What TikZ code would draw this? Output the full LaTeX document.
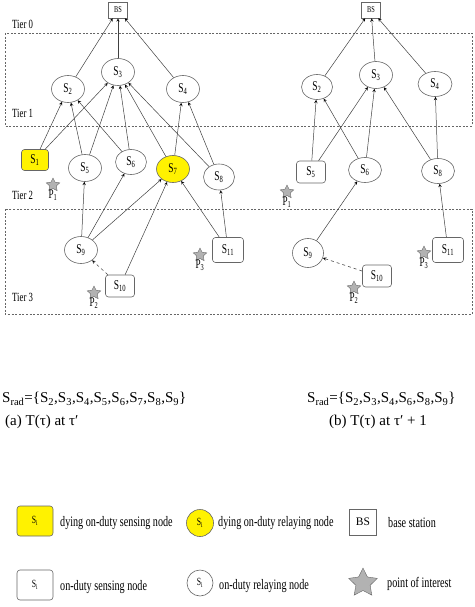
\documentclass[tikz,border=0pt]{standalone}
\usepackage{fontspec}
\setmainfont{Liberation Serif}
\newfontfamily\narrow{Liberation Serif}[FakeStretch=0.7]
\usetikzlibrary{positioning, arrows, shapes.geometric}
\newcommand{\sn}[1]{S\textsubscript{#1}}
\newcommand{\capfont}{\fontsize{15}{17}\selectfont}
\tikzset{
    >=stealth, % small filled heads
    relay/.style={ellipse, draw=black!60, line width=0.6pt, minimum width=33pt, minimum height=27pt, inner sep=0pt, font=\narrow\fontsize{13.5}{15}\selectfont},
    dyingrelay/.style={relay, fill=yellow},
    sense/.style={rectangle, rounded corners=3pt, draw=black!60, line width=0.6pt, minimum width=29pt, minimum height=22pt, inner sep=0pt, font=\narrow\fontsize{13.5}{15}\selectfont},
    dyingsense/.style={sense, fill=yellow},
    station/.style={rectangle, draw=black!60, line width=0.6pt, minimum width=19pt, minimum height=16pt, inner sep=0pt, font=\narrow\fontsize{9}{10}\selectfont},
    poi/.style={star, star points=5, star point ratio=2, minimum size=14pt, inner sep=0pt, draw=black!60, fill=black!30},
    plabel/.style={label distance=-2.5pt, font=\narrow\fontsize{13}{14}\selectfont},
    tier/.style={draw=black!60, dash pattern=on 2pt off 1.6pt, line width=0.9pt},
    tierlabel/.style={anchor=west, inner sep=1pt, font=\narrow\fontsize{12.5}{14}\selectfont},
    legendtext/.style={anchor=west, inner sep=1pt, font=\narrow\fontsize{14.5}{16}\selectfont},
}
\tikzstyle{arrow} = [line width=0.5pt, ->, >=stealth, draw=black!75]

\begin{document}
\begin{tikzpicture}[x=1pt, y=-1pt, on grid, node distance=60pt]
    \useasboundingbox (0,0) rectangle (474,607);

    % tiers
    \draw[tier] (5,33) rectangle (472,126);
    \draw[tier] (5,209) rectangle (472,314);
    \node[tierlabel] (t0) at (11,24) {Tier 0};
    \node[tierlabel] (t1) at (11,113) {Tier 1};
    \node[tierlabel] (t2) at (11,195) {Tier 2};
    \node[tierlabel] (t3) at (11,297) {Tier 3};

    % (a) tree at tau'
    \node[station] (bsa) at (118,10) {BS};
    \node[relay] (s3a) [below=62pt of bsa] {\sn{3}};
    \node[relay] (s2a) [below left=17pt and 50pt of s3a] {\sn{2}};
    \node[relay] (s4a) [below right=17pt and 65pt of s3a] {\sn{4}};
    \node[dyingsense, minimum width=27pt, minimum height=21pt] (s1a) [below left=71pt and 33pt of s2a] {\sn{1}};
    \node[relay] (s5a) [below right=79pt and 17pt of s2a] {\sn{5}};
    \node[relay, minimum width=31pt, minimum height=25pt] (s6a) [below right=90pt and 13pt of s3a] {\sn{6}};
    \node[dyingrelay] (s7a) [below left=80pt and 10pt of s4a] {\sn{7}};
    \node[relay, minimum width=31pt, minimum height=26pt] (s8a) [below right=88pt and 36pt of s4a] {\sn{8}};
    \node[relay] (s9a) [below left=82pt and 4pt of s5a] {\sn{9}};
    \node[sense] (s10a) [below right=36pt and 39pt of s9a] {\sn{10}};
    \node[sense, minimum width=31pt, minimum height=25pt] (s11a) [below right=73pt and 9pt of s8a] {\sn{11}};
    \node[poi, label={[plabel]below:P\textsubscript{1}}] (p1a) [below right=25pt and 18pt of s1a] {};
    \node[poi, label={[plabel]below:P\textsubscript{2}}] (p2a) [below left=7pt and 26pt of s10a] {};
    \node[poi, label={[plabel]below:P\textsubscript{3}}] (p3a) [below left=5pt and 28pt of s11a] {};

    \path[arrow]
        (s2a) edge (bsa)
        (s3a) edge (bsa)
        (s4a) edge (bsa)
        (s1a) edge (s2a) edge (s3a)
        (s5a) edge (s2a) edge (s3a)
        (s6a) edge (s2a) edge (s3a)
        (s7a) edge (s3a) edge (s4a)
        (s8a) edge (s3a) edge (s4a)
        (s9a) edge (s5a) edge (s6a) edge (s7a)
        (s10a) edge (s7a) edge[dashed] (s9a)
        (s11a) edge (s7a) edge (s8a);

    % (b) tree at tau'+1
    \node[station] (bsb) at (371,10) {BS};
    \node[relay] (s3b) [below right=65pt and 5pt of bsb] {\sn{3}};
    \node[relay, minimum width=31pt, minimum height=25pt] (s2b) [below left=12pt and 59pt of s3b] {\sn{2}};
    \node[relay, minimum width=34pt, minimum height=25pt] (s4b) [below right=9pt and 59pt of s3b] {\sn{4}};
    \node[sense] (s5b) [below left=85pt and 6pt of s2b] {\sn{5}};
    \node[relay, minimum height=25pt] (s6b) [below left=95pt and 11pt of s3b] {\sn{6}};
    \node[relay, minimum height=25pt] (s8b) [below right=87pt and 3pt of s4b] {\sn{8}};
    \node[relay, minimum width=31pt, minimum height=29pt] (s9b) [below left=83pt and 57pt of s6b] {\sn{9}};
    \node[sense] (s10b) [below right=23pt and 69pt of s9b] {\sn{10}};
    \node[sense, minimum width=31pt, minimum height=25pt] (s11b) [below right=79pt and 10pt of s8b] {\sn{11}};
    \node[poi, label={[plabel]below:P\textsubscript{1}}] (p1b) [below left=20pt and 24pt of s5b] {};
    \node[poi, label={[plabel]below:P\textsubscript{2}}] (p2b) [below left=12pt and 23pt of s10b] {};
    \node[poi, label={[plabel]below:P\textsubscript{3}}] (p3b) [below left=3pt and 24pt of s11b] {};

    \path[arrow]
        (s2b) edge (bsb)
        (s3b) edge (bsb)
        (s4b) edge (bsb)
        (s5b) edge (s2b) edge (s3b)
        (s6b) edge (s2b) edge (s3b)
        (s8b) edge (s3b) edge (s4b)
        (s9b) edge (s6b)
        (s10b) edge[dashed] (s9b)
        (s11b) edge (s8b);

    % captions
    \node[anchor=west, inner sep=1pt, font=\capfont] (srada) at (1,399) {S\textsubscript{rad}=\{S\textsubscript{2},S\textsubscript{3},S\textsubscript{4},S\textsubscript{5},S\textsubscript{6},S\textsubscript{7},S\textsubscript{8},S\textsubscript{9}\}};
    \node[anchor=west, inner sep=1pt, font=\capfont] (capa) at (4,422) {(a) T(τ) at τ′};
    \node[anchor=west, inner sep=1pt, font=\capfont] (sradb) at (306,399) {S\textsubscript{rad}=\{S\textsubscript{2},S\textsubscript{3},S\textsubscript{4},S\textsubscript{6},S\textsubscript{8},S\textsubscript{9}\}};
    \node[inner sep=1pt, font=\capfont] (capb) at (378,422) {(b) T(τ) at τ′ + 1};

    % legend
    \node[dyingsense, minimum width=36pt, minimum height=30pt, font=\narrow\fontsize{11}{12}\selectfont] (lg1) at (35,521) {S\textsubscript{i}};
    \node[legendtext] (lg1t) at (59,523) {dying on-duty sensing node};
    \node[dyingrelay, circle, minimum size=27pt, font=\narrow\fontsize{11}{12}\selectfont] (lg2) at (200,523) {S\textsubscript{i}};
    \node[legendtext] (lg2t) at (217,523) {dying on-duty relaying node};
    \node[station, minimum width=27pt, minimum height=26pt, font=\fontsize{11.5}{13}\selectfont] (lg3) at (363,522) {BS};
    \node[legendtext] (lg3t) at (387,523) {base station};
    \node[sense, minimum width=36pt, minimum height=30pt, font=\narrow\fontsize{11}{12}\selectfont] (lg4) at (35,585) {S\textsubscript{i}};
    \node[legendtext] (lg4t) at (59,587) {on-duty sensing node};
    \node[relay, circle, minimum size=26pt, font=\narrow\fontsize{11}{12}\selectfont] (lg5) at (200,583) {S\textsubscript{i}};
    \node[legendtext] (lg5t) at (218,586) {on-duty relaying node};
    \node[poi, minimum size=30pt] (lg6) at (363,583) {};
    \node[legendtext] (lg6t) at (386,584) {point of interest};
\end{tikzpicture}
\end{document}
